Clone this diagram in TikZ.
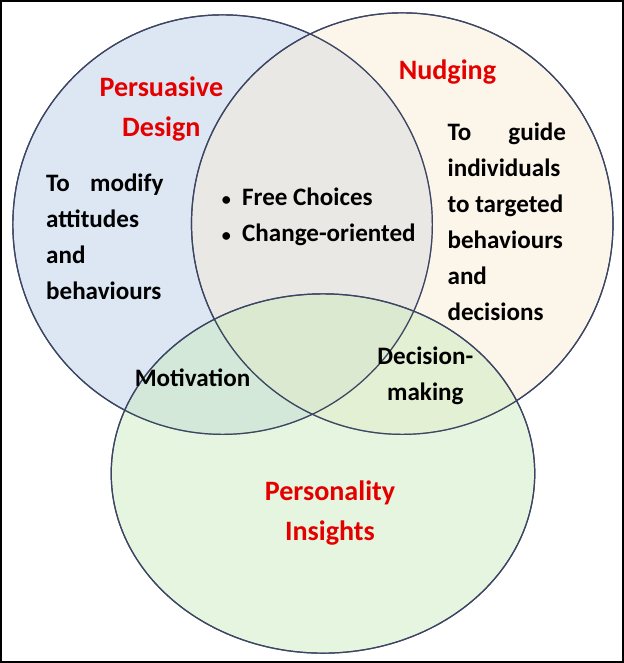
\documentclass[tikz,border=0pt]{standalone}
\usepackage{fontspec}
\setmainfont{Carlito}
\begin{document}
\begin{tikzpicture}[x=1pt,y=-1pt,
	set/.style={
		draw={rgb,255:red,60;green,70;blue,100},
		very thick,
		fill opacity=0.45,
	},
	title/.style={
		text=red!90!black,
		font=\fontsize{28}{40}\selectfont\bfseries,
		align=center,
	},
	body/.style={
		font=\fontsize{25}{36}\selectfont\bfseries,
		align=left,
	},
]
	\draw [line width=1.6pt,fill=white] (2,2) rectangle (622,661);
	% the three sets
	\fill [set,fill={rgb,255:red,180;green,200;blue,230}] (223,225) circle (209);
	\fill [set,fill={rgb,255:red,250;green,235;blue,210}] (402,224) circle (210);
	\fill [set,fill={rgb,255:red,200;green,235;blue,185}] (323,473) ellipse (211 and 179);
	\draw [set] (223,225) circle (209);
	\draw [set] (402,224) circle (210);
	\draw [set] (323,473) ellipse (211 and 179);
	% labels
	\node [title] (pd) at (162,110) {Persuasive\\Design};
	\node [title] (nudge) at (447,73) {Nudging};
	\node [title] (pi) at (330,512) {Personality\\Insights};
	\node [body,anchor=north west,inner sep=0] (pdtext) at (47,174)
		{\makebox[117pt][s]{To modify}\\attitudes\\and\\behaviours};
	\node [body,anchor=north west,inner sep=0] (ntext) at (447,123)
		{\makebox[118pt][s]{To guide}\\individuals\\to targeted\\behaviours\\and\\decisions};
	\node [body,anchor=north west,inner sep=0] (both) at (222,188)
		{{\fontsize{18}{18}\selectfont\textbullet}\ \ Free Choices\\{\fontsize{18}{18}\selectfont\textbullet}\ \ Change-oriented};
	\node [body] (motiv) at (193,378) {Motivation};
	\node [body,align=center] (decide) at (425,376) {Decision-\\making};
\end{tikzpicture}
\end{document}
